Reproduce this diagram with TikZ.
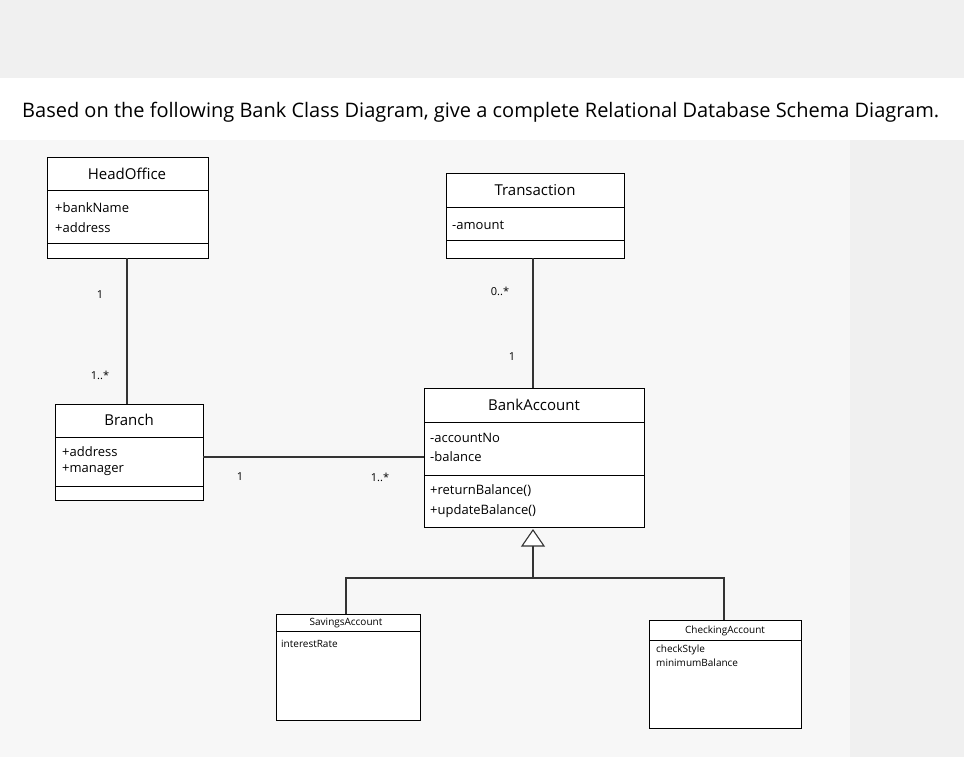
\documentclass[tikz,border=0pt]{standalone}
\usepackage{fontspec}
\setmainfont{Open Sans}
\begin{document}
\begin{tikzpicture}[x=1pt,y=-1pt,
  box/.style={draw=black,line width=1.2pt},
  sep/.style={draw=black,line width=1pt},
  lbl/.style={font=\fontsize{13}{15}\selectfont,anchor=west,inner sep=0pt},
  ttl/.style={font=\fontsize{15}{17}\selectfont,inner sep=0pt},
  mult/.style={font=\fontsize{11}{13}\selectfont,inner sep=0pt},
  conn/.style={draw=black!80,line width=1.1pt}]
\fill[gray!12] (0,0) rectangle (964,757);
\fill[white] (0,78) rectangle (964,140);
\fill[gray!6] (0,140) rectangle (850,757);
\useasboundingbox (0,0) rectangle (964,757);
\node[anchor=west,font=\fontsize{20}{24}\selectfont,inner sep=0pt] (q) at (22,112) {Based on the following Bank Class Diagram, give a complete Relational Database Schema Diagram.};
% HeadOffice
\node[box,fill=white,minimum width=161pt,minimum height=101pt,anchor=north west,inner sep=0pt] (ho) at (47,157) {};
\draw[sep] (47,190) -- (208,190); \draw[sep] (47,243) -- (208,243);
\node[ttl] (hot) at (127,174) {HeadOffice};
\node[lbl] (hoa) at (55,208) {+bankName};
\node[lbl] (hob) at (55,228) {+address};
% Transaction
\node[box,fill=white,minimum width=178pt,minimum height=85pt,anchor=north west,inner sep=0pt] (tr) at (446,173) {};
\draw[sep] (446,207) -- (624,207); \draw[sep] (446,240) -- (624,240);
\node[ttl] (trt) at (535,190) {Transaction};
\node[lbl] (tra) at (452,225) {-amount};
% Branch
\node[box,fill=white,minimum width=148pt,minimum height=96pt,anchor=north west,inner sep=0pt] (br) at (55,404) {};
\draw[sep] (55,437) -- (203,437); \draw[sep] (55,486) -- (203,486);
\node[ttl] (brt) at (129,420) {Branch};
\node[lbl] (bra) at (62,452) {+address};
\node[lbl] (brb) at (62,470) {+manager};
% BankAccount
\node[box,fill=white,minimum width=220pt,minimum height=139pt,anchor=north west,inner sep=0pt] (ba) at (424,388) {};
\draw[sep] (424,422) -- (644,422); \draw[sep] (424,475) -- (644,475);
\node[ttl] (bat) at (534,405) {BankAccount};
\node[lbl] (baa) at (430,438) {-accountNo};
\node[lbl] (bab) at (430,457) {-balance};
\node[lbl] (bac) at (430,491) {+returnBalance()};
\node[lbl] (bad) at (430,511) {+updateBalance()};
% Savings
\node[box,fill=white,minimum width=144pt,minimum height=106pt,anchor=north west,inner sep=0pt] (sa) at (276,614) {};
\draw[sep] (276,631) -- (420,631);
\node[font=\fontsize{10}{12}\selectfont,inner sep=0pt] (sat) at (346,623) {SavingsAccount};
\node[font=\fontsize{10}{12}\selectfont,anchor=west,inner sep=0pt] (saa) at (281,644) {interestRate};
% Checking
\node[box,fill=white,minimum width=152pt,minimum height=108pt,anchor=north west,inner sep=0pt] (ca) at (649,620) {};
\draw[sep] (649,640) -- (801,640);
\node[font=\fontsize{10}{12}\selectfont,inner sep=0pt] (cat) at (725,631) {CheckingAccount};
\node[font=\fontsize{10}{12}\selectfont,anchor=west,inner sep=0pt] (caa) at (656,650) {checkStyle};
\node[font=\fontsize{10}{12}\selectfont,anchor=west,inner sep=0pt] (cab) at (656,663) {minimumBalance};
% associations
\draw[conn] (127,258) -- (127,404);
\node[mult] (m1) at (100,295) {1};
\node[mult] (m2) at (100,375) {1..*};
\draw[conn] (533,258) -- (533,388);
\node[mult] (m3) at (500,291) {0..*};
\node[mult] (m4) at (512,357) {1};
\draw[conn] (203,457) -- (424,457);
\node[mult] (m5) at (240,477) {1};
\node[mult] (m6) at (380,477) {1..*};
% generalization
\coordinate (ap) at (533,530);
\draw[conn,fill=white] (ap) -- (522,546) -- (544,546) -- cycle;
\draw[conn] (533,546) -- (533,578);
\draw[conn] (346,614) -- (346,578) -- (724,578) -- (724,620);
\end{tikzpicture}
\end{document}
